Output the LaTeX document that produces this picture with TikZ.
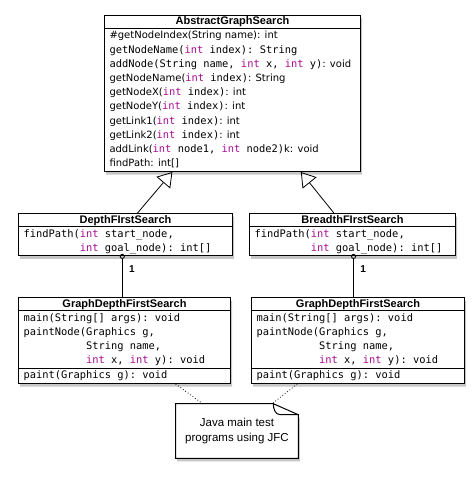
\documentclass[tikz,border=0pt]{standalone}
\usepackage{fontspec}
\setmainfont{DejaVu Sans}
\setmonofont{DejaVu Sans Mono}[Scale=1.04]
\newfontfamily\headfont{Liberation Sans}
\usepackage{tikz}
\usetikzlibrary{shapes.multipart, arrows.meta, calc, shadows, backgrounds, positioning}
\definecolor{kwpink}{RGB}{170,13,145}
\newcommand{\kw}[1]{\textcolor{kwpink}{#1}}
\newcommand{\mono}[1]{{\ttfamily #1}}
\newcommand{\rs}{\rule[-4.2pt]{0pt}{14.2pt}}
\newcommand{\ts}{\rule[-3pt]{0pt}{12pt}}
\newcommand{\cname}[1]{\ts{\headfont\bfseries\fontsize{11}{12}\selectfont #1}}

\begin{document}
\begin{tikzpicture}[x=1pt,y=-1pt,semithick]

	% Styles for the classes
	\tikzstyle{umlclass}=[rectangle split, rectangle split part align={center,left,left}, draw, line width=1pt, fill=white, anchor=north west, inner xsep=5pt, inner ysep=0pt, align=left, font=\fontsize{10}{14.2}\selectfont, drop shadow={shadow xshift=1.5pt, shadow yshift=-3pt, opacity=0.45}]
	\tikzstyle{inherit}=[-{Triangle[open,length=14pt,width=18pt]}, line width=0.8pt]
	\tikzstyle{owns}=[{Circle[open,length=5pt,width=5pt]}-, line width=0.8pt, shorten <=-2.5pt]
	\tikzstyle{notelink}=[line width=0.8pt, dash pattern=on 0.8pt off 2.2pt]
	\tikzstyle{notetext}=[align=center, minimum width=122pt, minimum height=54pt, inner sep=0pt, font=\headfont\fontsize{11.5}{15.5}\selectfont]
	\tikzstyle{notebox}=[line width=1pt, fill=white, drop shadow={shadow xshift=1.5pt, shadow yshift=-3pt, opacity=0.45}]

	\useasboundingbox (0,0) rectangle (474,481);

	% Nodes for the classes
	\node[umlclass, rectangle split parts=2, minimum width=256pt] (ags) at (104,15) {\cname{AbstractGraphSearch}
		\nodepart{two}\rs\#getNodeIndex(String name): int\\
		\rs\mono{getNodeName(\kw{int} index): String}\\
		\rs\mono{addNode(String name, \kw{int} x, \kw{int} y)}: void\\
		\rs getNodeName(\mono{\kw{int} index)}: String\\
		\rs getNodeX(\mono{\kw{int} index)}: int\\
		\rs getNodeY(\mono{\kw{int} index)}: int\\
		\rs getLink1(\mono{\kw{int} index)}: int\\
		\rs getLink2(\mono{\kw{int} index)}: int\\
		\rs addLink(\mono{\kw{int} node1, \kw{int} node2)}k: void\\
		\rs findPath: int[]};

	\node[umlclass, rectangle split parts=2, minimum width=214pt] (dfs) at (18,213) {\cname{DepthFIrstSearch}
		\nodepart{two}\rs\mono{findPath(\kw{int} start\_node,}\\
		\rs\mono{\phantom{findPath(}\kw{int} goal\_node): int[]}};

	\node[umlclass, rectangle split parts=2, minimum width=206pt] (bfs) at (249,213) {\cname{BreadthFIrstSearch}
		\nodepart{two}\rs\mono{findPath(\kw{int} start\_node,}\\
		\rs\mono{\phantom{findPath(}\kw{int} goal\_node): int[]}};

	\node[umlclass, rectangle split parts=3, minimum width=212pt] (gl) at (18,297) {\cname{GraphDepthFirstSearch}
		\nodepart{two}\rs\mono{main(String[] args): void}\\
		\rs\mono{paintNode(Graphics g,}\\
		\rs\mono{\phantom{paintNode(}String name,}\\
		\rs\mono{\phantom{paintNode(}\kw{int} x, \kw{int} y): void}
		\nodepart{three}\rs\mono{paint(Graphics g): void}};

	\node[umlclass, rectangle split parts=3, minimum width=213pt] (gr) at (251,297) {\cname{GraphDepthFirstSearch}
		\nodepart{two}\rs\mono{main(String[] args): void}\\
		\rs\mono{paintNode(Graphics g,}\\
		\rs\mono{\phantom{paintNode(}String name,}\\
		\rs\mono{\phantom{paintNode(}\kw{int} x, \kw{int} y): void}
		\nodepart{three}\rs\mono{paint(Graphics g): void}};

	% Note
	\node[notetext] (note) at (237,431) {Java main test\\programs using JFC};
	\begin{scope}[on background layer]
		\draw[notebox] (note.south west) -- (note.north west) -- ([xshift=-25pt]note.north east) -- ([yshift=-11pt]note.north east) -- (note.south east) -- cycle;
		\draw[line width=1pt] ([xshift=-25pt]note.north east) to[out=-90,in=180] ([xshift=-18pt,yshift=-11pt]note.north east) -- ([yshift=-11pt]note.north east);
	\end{scope}

	% Generalisations
	\draw[inherit] ($(dfs.north west)!0.556!(dfs.north east)$) -- ($(ags.south west)!0.266!(ags.south east)$);
	\draw[inherit] ($(bfs.north west)!0.41!(bfs.north east)$) -- ($(ags.south west)!0.766!(ags.south east)$);

	% Associations
	\coordinate (dl) at ($(dfs.south west)!0.485!(dfs.south east)$);
	\coordinate (bl) at ($(bfs.south west)!0.505!(bfs.south east)$);
	\draw[owns] (dl) -- (dl |- gl.north) node[pos=0.3, right=3pt, font=\headfont\bfseries\fontsize{10}{12}\selectfont] {1};
	\draw[owns] (bl) -- (bl |- gr.north) node[pos=0.3, right=3pt, font=\headfont\bfseries\fontsize{10}{12}\selectfont] {1};

	% Note links
	\draw[notelink] ($(gl.south west)!0.74!(gl.south east)$) -- ($(note.north west)!0.22!(note.north east)$);
	\draw[notelink] ($(gr.south west)!0.216!(gr.south east)$) -- ($(note.north west)!0.787!(note.north east)$);

\end{tikzpicture}
\end{document}
